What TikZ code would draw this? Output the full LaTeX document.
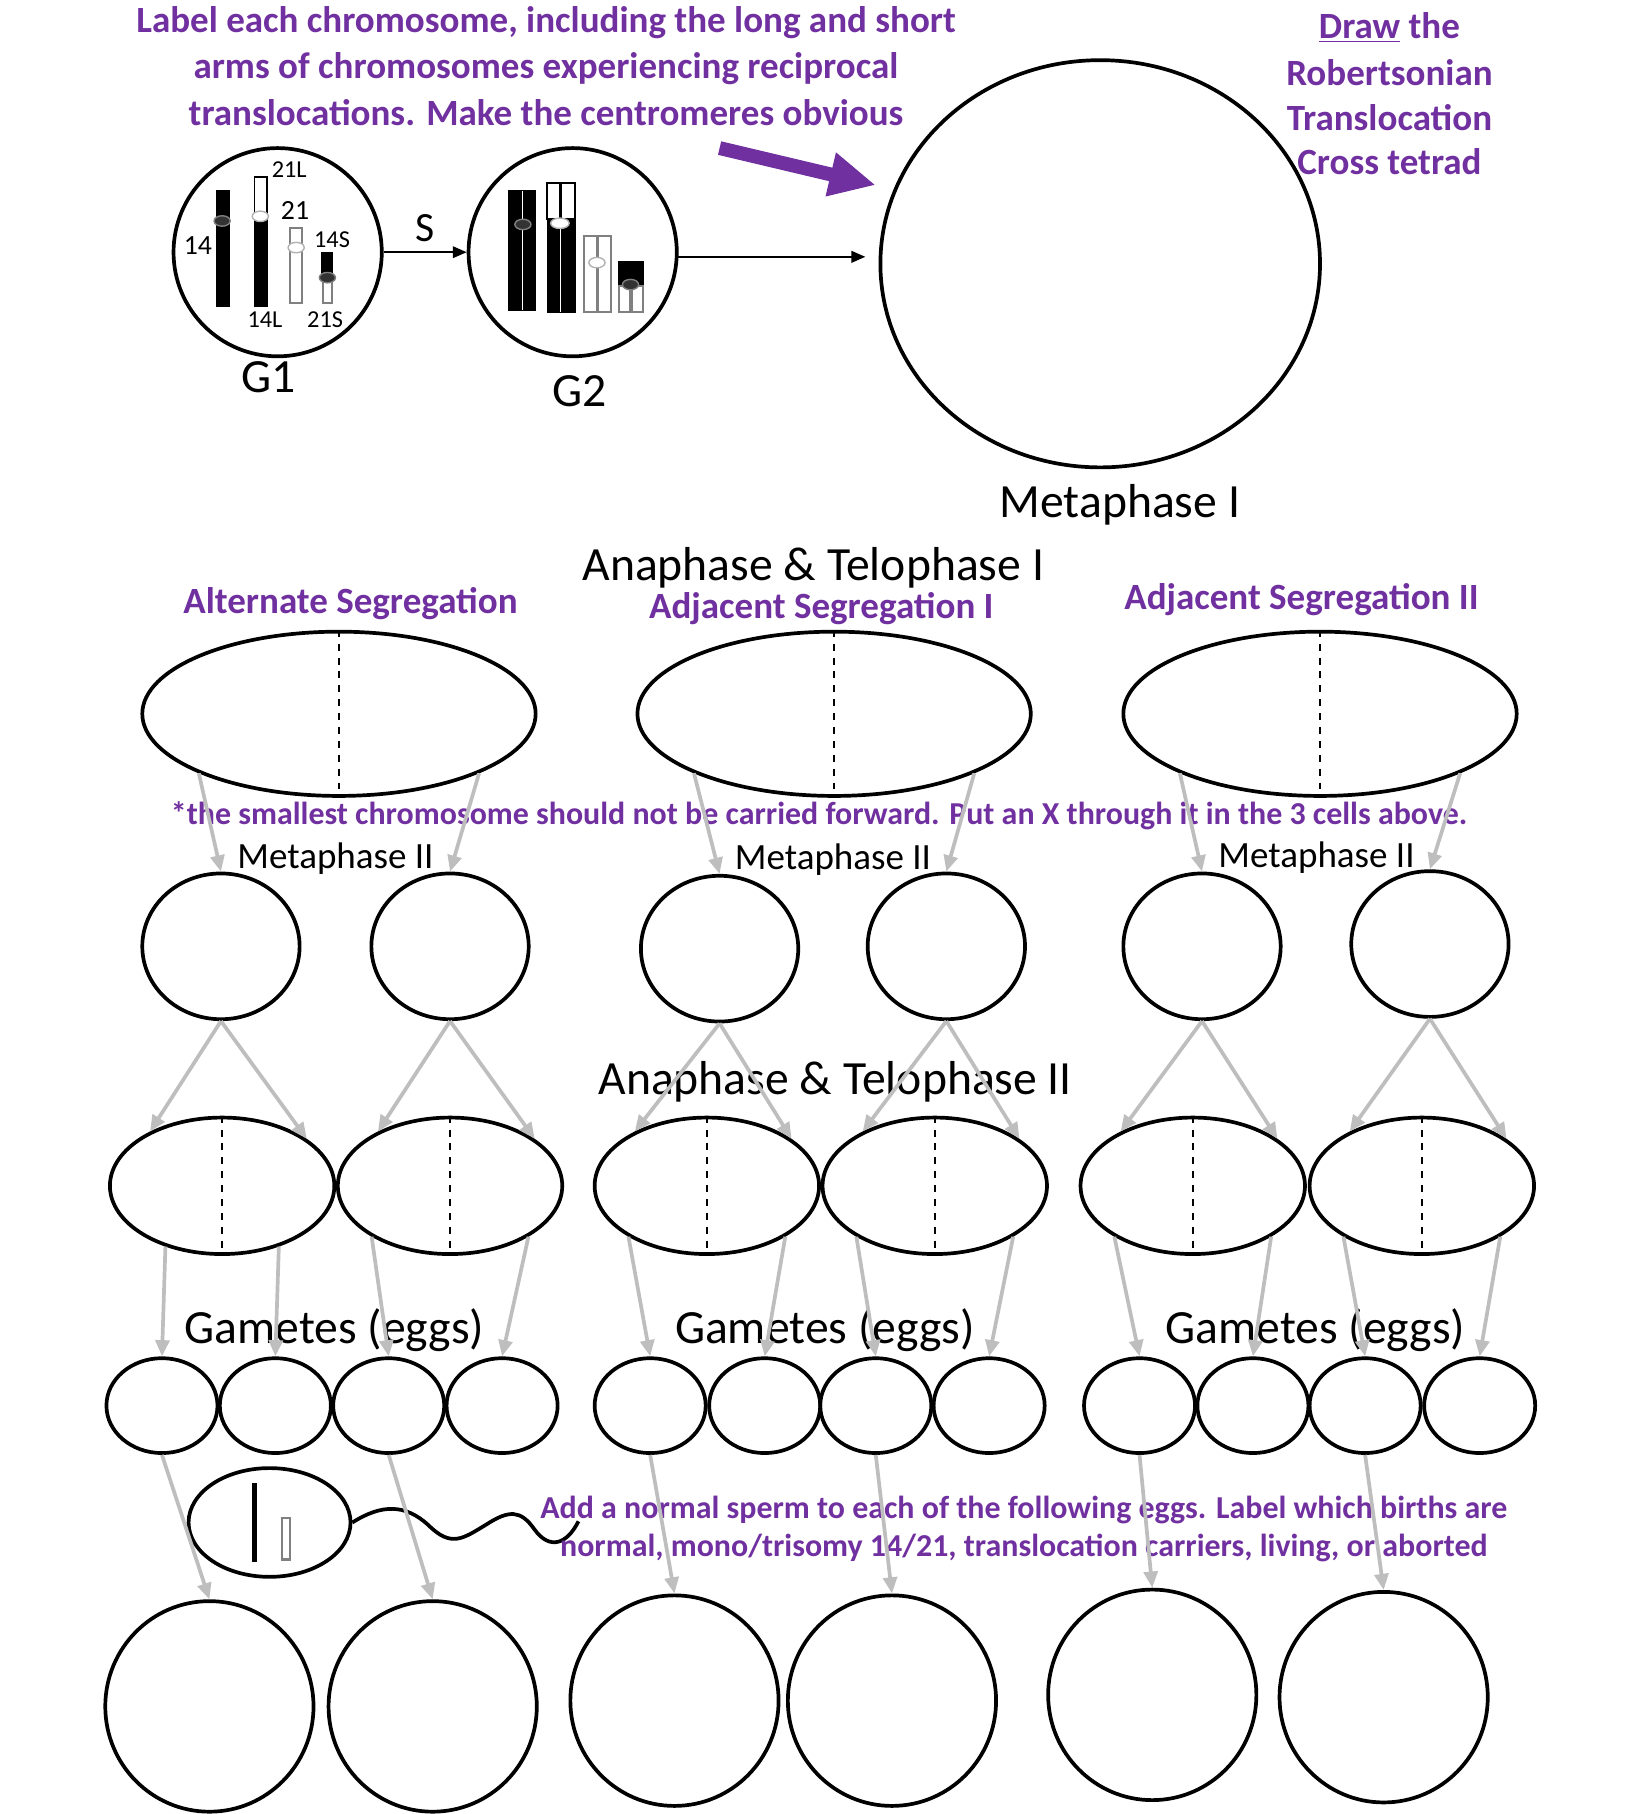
\documentclass[tikz,border=0pt]{standalone}
\usepackage{fontspec}
\setmainfont{Carlito}
\usetikzlibrary{shapes.geometric,arrows.meta}
\definecolor{pur}{RGB}{112,48,160}
\definecolor{gr}{RGB}{190,190,190}
\begin{document}
\begin{tikzpicture}[x=0.5pt,y=-0.5pt,
 cell/.style={draw=black,line width=1.6pt,ellipse,inner sep=0pt},
 ga/.style={draw=gr,line width=1.6pt,-{Triangle[length=7pt,width=6pt]}},
 ba/.style={draw=black,line width=0.8pt,-{Triangle[length=6pt,width=5pt]}},
 dv/.style={dashed,line width=1pt},
 ptxt/.style={text=pur,font=\bfseries\fontsize{16}{18}\selectfont,inner sep=0pt},
 big/.style={font=\fontsize{20.6}{24}\selectfont,inner sep=0pt},
 mid/.style={font=\fontsize{16}{18}\selectfont,inner sep=0pt},
 seg/.style={text=pur,font=\bfseries\fontsize{16}{18}\selectfont,inner sep=0pt},
 lab/.style={font=\fontsize{10.5}{12}\selectfont,inner sep=0pt},
 blk/.style={fill=black,draw=black,line width=0.5pt},
 wht/.style={fill=white,draw=black,line width=0.8pt},
 gry/.style={fill=white,draw=gray,line width=0.9pt},
 cd/.style={fill=black!80,draw=gray,line width=0.6pt},
 cw/.style={fill=white,draw=gray!60,line width=0.6pt}]
\useasboundingbox (0,0) rectangle (1414,1568);
% top texts
\node[ptxt] (t1) at (472,20) {Label each chromosome, including the long and short};
\node[ptxt] (t2) at (472,59) {arms of chromosomes experiencing reciprocal};
\node[ptxt] (t3) at (472,97) {translocations. Make the centromeres obvious};
\node[ptxt] (r1) at (1201,24) {\underline{Draw} the};
\node[ptxt] (r2) at (1201,63) {Robertsonian};
\node[ptxt] (r3) at (1201,102) {Translocation};
\node[ptxt] (r4) at (1201,140) {Cross tetrad};
\coordinate (pa) at (622,128);
\coordinate (pb) at (757,160);
\draw[pur,line width=6pt,-{Triangle[length=20pt,width=18pt]}] (pa) -- (pb);
% G1 G2 MI
\node[cell,minimum width=90pt,minimum height=90pt,circle] (g1) at (240,218) {};
\node[cell,minimum width=90pt,minimum height=90pt,circle] (g2) at (495,218) {};
\node[cell,minimum width=190pt,minimum height=176pt] (mi) at (951,228) {};
\coordinate (g2r) at (585,222);
\coordinate (mil) at (748,222);
\draw[ba] (g1.east) -- node[above=4pt,font=\fontsize{18}{20}\selectfont,inner sep=0pt] (s) {S} (g2.west);
\draw[ba] (g2r) -- (mil);
\node[big] (lg1) at (232,326) {G1};
\node[big] (lg2) at (501,338) {G2};
\node[big] (lmi) at (968,436) {Metaphase I};
% G1 chromosomes
\draw[blk] (187,165) rectangle (198,265);
\draw[cd] (192,191) ellipse (7 and 4.5);
\draw[blk] (220,187) rectangle (231,265);
\draw[wht] (220,153) rectangle (231,187);
\draw[cw] (225,187) ellipse (7 and 4.5);
\draw[gry] (251,197) rectangle (261,262);
\draw[cw] (256,214) ellipse (7 and 4.5);
\draw[blk] (278,218) rectangle (287,240);
\draw[gry] (279,240) rectangle (287,262);
\draw[cd] (283,240) ellipse (7 and 4.5);
\node[lab] (l21L) at (250,147) {21L};
\node[lab,font=\fontsize{12}{14}\selectfont] (l21) at (255,182) {21};
\node[lab,font=\fontsize{12}{14}\selectfont] (l14) at (171,212) {14};
\node[lab] (l14S) at (287,207) {14S};
\node[lab] (l14L) at (229,276) {14L};
\node[lab] (l21S) at (281,276) {21S};
% G2 chromosomes
\draw[blk] (440,165) rectangle (451,268);
\draw[blk] (452,165) rectangle (463,268);
\draw[draw=white,line width=0.4pt] (451.5,165) -- (451.5,268);
\draw[cd] (452,194) ellipse (7 and 4.5);
\draw[blk] (473,189) rectangle (484,270);
\draw[blk] (485,189) rectangle (497,270);
\draw[draw=white,line width=0.4pt] (484.5,189) -- (484.5,270);
\draw[wht] (473,158) rectangle (484,189);
\draw[wht] (485,158) rectangle (497,189);
\draw[cw] (484,193) ellipse (8 and 4.5);
\draw[gry] (505,204) rectangle (516,270);
\draw[gry] (517,204) rectangle (528,270);
\draw[cw] (516,227) ellipse (7 and 4.5);
\draw[blk] (535,226) rectangle (545,247);
\draw[blk] (546,226) rectangle (556,247);
\draw[gry] (535,247) rectangle (545,270);
\draw[gry] (546,247) rectangle (556,270);
\draw[cd] (545,246) ellipse (7 and 4.5);
% Anaphase I
\node[big] (at1) at (703,491) {Anaphase \& Telophase I};
\node[seg] (sa) at (303,522) {Alternate Segregation};
\node[seg] (sb) at (710,526) {Adjacent Segregation I};
\node[seg] (sc) at (1125,518) {Adjacent Segregation II};
\foreach \n/\x in {a/293,b/721,c/1141}{
 \node[cell,minimum width=170pt,minimum height=71pt] (e\n) at (\x,617) {};
 \draw[dv] (e\n.north) -- (e\n.south);
}
\node[text=pur,font=\bfseries\fontsize{13.8}{16}\selectfont,inner sep=0pt] (note) at (708,705) {*the smallest chromosome should not be carried forward. Put an X through it in the 3 cells above.};
\node[mid] (m2a) at (290,742) {Metaphase II};
\node[mid] (m2b) at (720,743) {Metaphase II};
\node[mid] (m2c) at (1138,741) {Metaphase II};
% Metaphase II circles
\foreach \n/\x/\y in {a1/191/818,a2/389/818,b1/622/820,b2/818/818,c1/1039/818,c2/1236/816}{
 \node[cell,minimum width=68pt,minimum height=63pt] (m\n) at (\x,\y) {};
}
\foreach \n in {a,b,c}{
 \draw[ga] (e\n.-157) -- (m\n1.north);
 \draw[ga] (e\n.-23) -- (m\n2.north);
}
\node[big] (at2) at (722,935) {Anaphase \& Telophase II};
% level 3 ellipses
\foreach \n/\x in {a1/192,a2/389,b1/611,b2/808,c1/1031,c2/1229}{
 \node[cell,minimum width=97pt,minimum height=59pt] (f\n) at (\x,1025) {};
 \draw[dv] (f\n.north) -- (f\n.south);
 \draw[ga] (m\n.south) -- (f\n.143);
 \draw[ga] (m\n.south) -- (f\n.29);
}
\node[big] (ge1) at (289,1150) {Gametes (eggs)};
\node[big] (ge2) at (713,1150) {Gametes (eggs)};
\node[big] (ge3) at (1137,1150) {Gametes (eggs)};
% gametes
\foreach \n/\x in {1/140,2/238,3/336,4/434,5/562,6/661,7/757,8/855,9/985,10/1083,11/1180,12/1279}{
 \node[cell,minimum width=48pt,minimum height=41pt] (q\n) at (\x,1215) {};
}
\draw[ga] (fa1.-133) -- (q1.north);
\draw[ga] (fa1.-47) -- (q2.north);
\draw[ga] (fa2.-147) -- (q3.north);
\draw[ga] (fa2.-33) -- (q4.north);
\draw[ga] (fb1.-147) -- (q5.north);
\draw[ga] (fb1.-33) -- (q6.north);
\draw[ga] (fb2.-147) -- (q7.north);
\draw[ga] (fb2.-33) -- (q8.north);
\draw[ga] (fc1.-147) -- (q9.north);
\draw[ga] (fc1.-33) -- (q10.north);
\draw[ga] (fc2.-147) -- (q11.north);
\draw[ga] (fc2.-33) -- (q12.north);
% sperm
\node[cell,minimum width=70pt,minimum height=47pt] (sp) at (233,1316) {};
\draw[line width=2.5pt] (220,1282) -- (220,1350);
\draw[gry] (244,1312) rectangle (251,1348);
\draw[line width=1.6pt] (sp.east) .. controls (330,1300) and (350,1300) .. (370,1318)
 .. controls (390,1338) and (400,1330) .. (420,1318)
 .. controls (440,1305) and (450,1305) .. (462,1322)
 .. controls (475,1340) and (490,1335) .. (500,1315);
\node[text=pur,font=\bfseries\fontsize{13.8}{16}\selectfont,inner sep=0pt] (bt1) at (885,1305) {Add a normal sperm to each of the following eggs. Label which births are};
\node[text=pur,font=\bfseries\fontsize{13.8}{16}\selectfont,inner sep=0pt] (bt2) at (885,1338) {normal, mono/trisomy 14/21, translocation carriers, living, or aborted};
% bottom circles
\foreach \n/\x/\y in {1/181/1475,2/374/1475,3/583/1470,4/771/1470,5/996/1465,6/1196/1467}{
 \node[cell,minimum width=90pt,minimum height=91pt] (z\n) at (\x,\y) {};
}
\draw[ga] (q1.south) -- (z1.north);
\draw[ga] (q3.south) -- (z2.north);
\draw[ga] (q5.south) -- (z3.north);
\draw[ga] (q7.south) -- (z4.north);
\draw[ga] (q9.south) -- (z5.north);
\draw[ga] (q11.south) -- (z6.north);
\end{tikzpicture}
\end{document}
